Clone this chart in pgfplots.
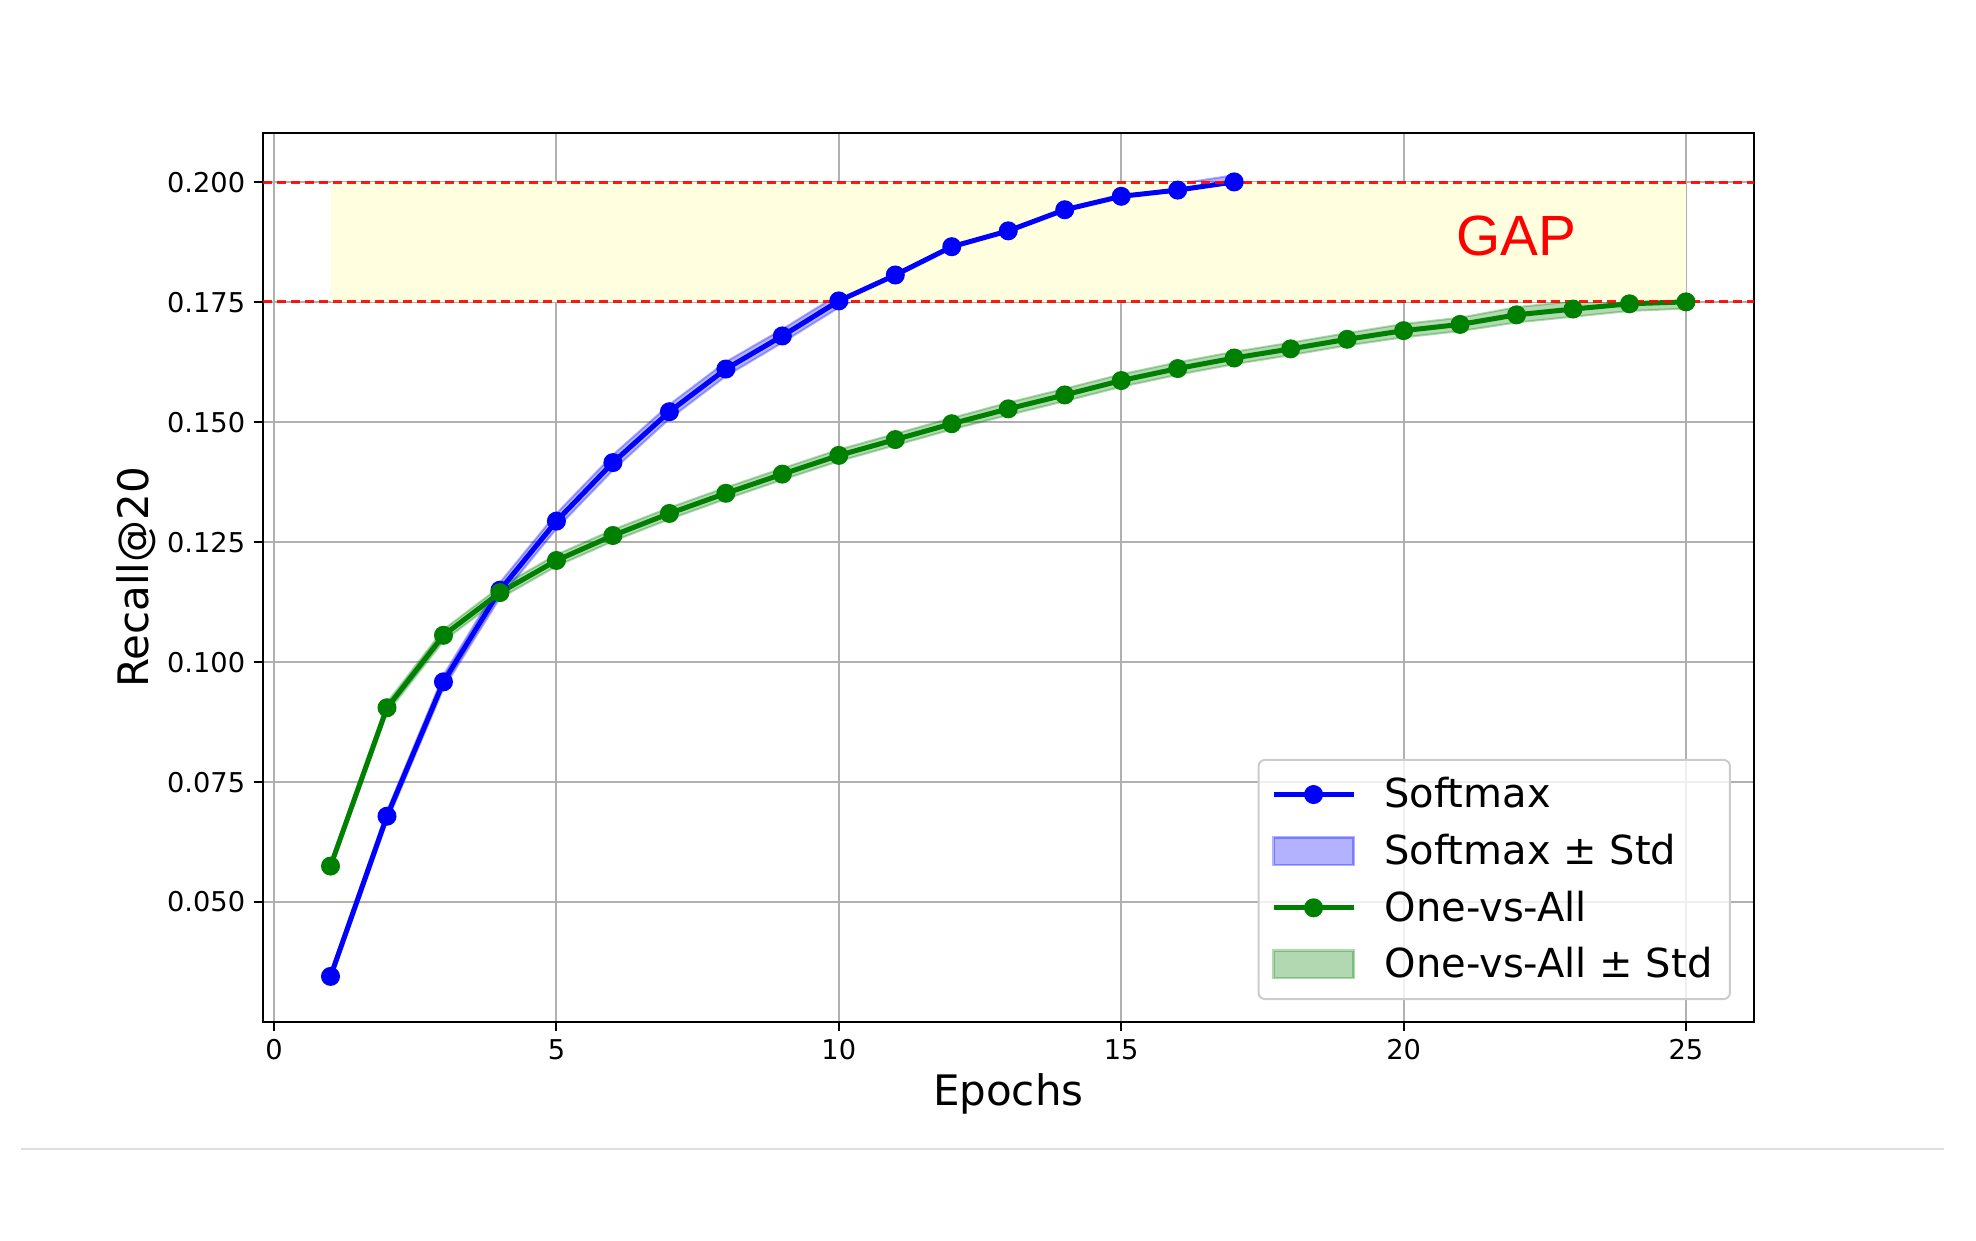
\documentclass[border=0pt]{standalone}
\usepackage{pgfplots}
\pgfplotsset{compat=1.18}
\usepackage{pgfplotstable}
\usepgfplotslibrary{fillbetween}
\usepackage{fontspec}
\setmainfont{DejaVu Sans}
\newfontfamily\gapfont{Liberation Sans}
\definecolor{mblue}{rgb}{0,0,1}
\definecolor{mgreen}{rgb}{0,0.502,0}
\definecolor{gridgray}{HTML}{B0B0B0}
\definecolor{legframe}{HTML}{CCCCCC}
\definecolor{lightyel}{HTML}{FFFFE0}

\pgfplotstableread{
x m s
1 0.0345 0.0009
2 0.0679 0.0011
3 0.0959 0.0014
4 0.1150 0.0016
5 0.1294 0.0016
6 0.1416 0.0016
7 0.1522 0.0015
8 0.1611 0.0015
9 0.1680 0.0014
10 0.1753 0.0014
11 0.1807 0.0013
12 0.1866 0.0013
13 0.1899 0.0013
14 0.1943 0.0013
15 0.1971 0.0013
16 0.1984 0.0013
17 0.2001 0.0014
}\softmax

\pgfplotstableread{
x m s
1 0.0575 0.0008
2 0.0905 0.0011
3 0.1056 0.0012
4 0.1145 0.0012
5 0.1212 0.0012
6 0.1264 0.0012
7 0.1310 0.0012
8 0.1352 0.0012
9 0.1392 0.0012
10 0.1431 0.0012
11 0.1464 0.0012
12 0.1497 0.0012
13 0.1528 0.0013
14 0.1557 0.0013
15 0.1587 0.0013
16 0.1612 0.0013
17 0.1634 0.0013
18 0.1653 0.0013
19 0.1673 0.0013
20 0.1691 0.0014
21 0.1704 0.0014
22 0.1724 0.0016
23 0.1736 0.0016
24 0.1747 0.0015
25 0.1751 0.0014
}\ova

\pgfplotsset{
  mylinelegend/.style={legend image code/.code={%
    \draw[mark repeat=2,mark phase=2,##1] plot coordinates {(0pt,0pt) (16pt,0pt) (32pt,0pt)};}},
  myarealegend/.style={legend image code/.code={%
    \draw[sharp corners,##1] (0pt,-5.5pt) rectangle (32pt,5.5pt);}},
}

\begin{document}
\begin{tikzpicture}
\draw[black!13, line width=0.6pt] (8.4pt,36.4pt) -- (777.6pt,36.4pt);
\begin{axis}[
  at={(105.1pt,87.2pt)}, anchor=south west,
  scale only axis, width=596.4pt, height=355.6pt,
  xmin=-0.2, xmax=26.2, ymin=0.0250, ymax=0.2103,
  xtick={0,5,10,15,20,25},
  ytick={0.050,0.075,0.100,0.125,0.150,0.175,0.200},
  yticklabel style={/pgf/number format/.cd, fixed, fixed zerofill, precision=3},
  /pgf/number format/assume math mode=true,
  tick label style={font=\fontsize{10.9}{13}\selectfont},
  tick align=outside, tick pos=left, major tick length=3.5pt,
  tick style={black, line width=0.8pt},
  grid=major, grid style={gridgray, line width=0.8pt},
  axis line style={black, line width=0.8pt},
  xlabel={Epochs}, ylabel={Recall@20},
  label style={font=\fontsize{16.8}{20}\selectfont},
  xlabel style={at={(axis description cs:0.5,-0.081)}, anchor=center},
  ylabel style={at={(axis description cs:-0.085,0.5)}, anchor=center},
  legend cell align=left,
  legend style={
    at={(axis description cs:0.9847,0.0247)}, anchor=south east,
    draw=legframe, line width=0.8pt, rounded corners=2.5pt,
    fill=white, fill opacity=0.8, draw opacity=1, text opacity=1,
    font=\fontsize{16}{19}\selectfont,
    inner xsep=5pt, inner ysep=5pt, row sep=5pt, column sep=9.4pt,
  },
]
% highlight band
\addplot[draw=none, fill=lightyel, forget plot]
  coordinates {(1,0.1751) (25,0.1751) (25,0.2000) (1,0.2000)} -- cycle;

% std bands
\addplot[name path=su, draw=none, forget plot] table[x=x, y expr=\thisrow{m}+\thisrow{s}] {\softmax};
\addplot[name path=sl, draw=none, forget plot] table[x=x, y expr=\thisrow{m}-\thisrow{s}] {\softmax};
\addplot[fill=mblue, fill opacity=0.3, draw=mblue, draw opacity=0.3, line width=0.8pt, forget plot] fill between[of=su and sl];
\addplot[name path=ou, draw=none, forget plot] table[x=x, y expr=\thisrow{m}+\thisrow{s}] {\ova};
\addplot[name path=ol, draw=none, forget plot] table[x=x, y expr=\thisrow{m}-\thisrow{s}] {\ova};
\addplot[fill=mgreen, fill opacity=0.3, draw=mgreen, draw opacity=0.3, line width=0.8pt, forget plot] fill between[of=ou and ol];

% mean lines
\addplot[mblue, line width=2pt, mark=*, mark size=3.4pt, mark options={line width=0.8pt, fill=mblue}, forget plot]
  table[x=x, y=m] {\softmax};
\addplot[mgreen, line width=2pt, mark=*, mark size=3.4pt, mark options={line width=0.8pt, fill=mgreen}, forget plot]
  table[x=x, y=m] {\ova};

% reference lines
\addplot[red, opacity=0.9, line width=1.1pt, dash pattern=on 3.8pt off 1.8pt, forget plot]
  coordinates {(-0.2,0.2000) (26.2,0.2000)};
\addplot[red, opacity=0.9, line width=1.1pt, dash pattern=on 3.8pt off 1.8pt, forget plot]
  coordinates {(-0.2,0.1751) (26.2,0.1751)};

\node[text=red, font=\gapfont\fontsize{22.7}{27}\selectfont, inner sep=0pt] at (axis cs:22,0.18875) {GAP};

% legend
\addlegendimage{mylinelegend, mblue, line width=2pt, fill opacity=1, draw opacity=1, mark=*, mark size=3.4pt, mark options={line width=0.8pt, fill=mblue}}
\addlegendentry{Softmax}
\addlegendimage{myarealegend, fill=mblue, fill opacity=0.3, draw=mblue, draw opacity=0.3, line width=1pt}
\addlegendentry{Softmax ± Std}
\addlegendimage{mylinelegend, mgreen, line width=2pt, fill opacity=1, draw opacity=1, mark=*, mark size=3.4pt, mark options={line width=0.8pt, fill=mgreen}}
\addlegendentry{One-vs-All}
\addlegendimage{myarealegend, fill=mgreen, fill opacity=0.3, draw=mgreen, draw opacity=0.3, line width=1pt}
\addlegendentry{One-vs-All ± Std}
\end{axis}
\pgfresetboundingbox
\path[use as bounding box] (0,0) rectangle (790.4pt,496pt);
\end{tikzpicture}
\end{document}
